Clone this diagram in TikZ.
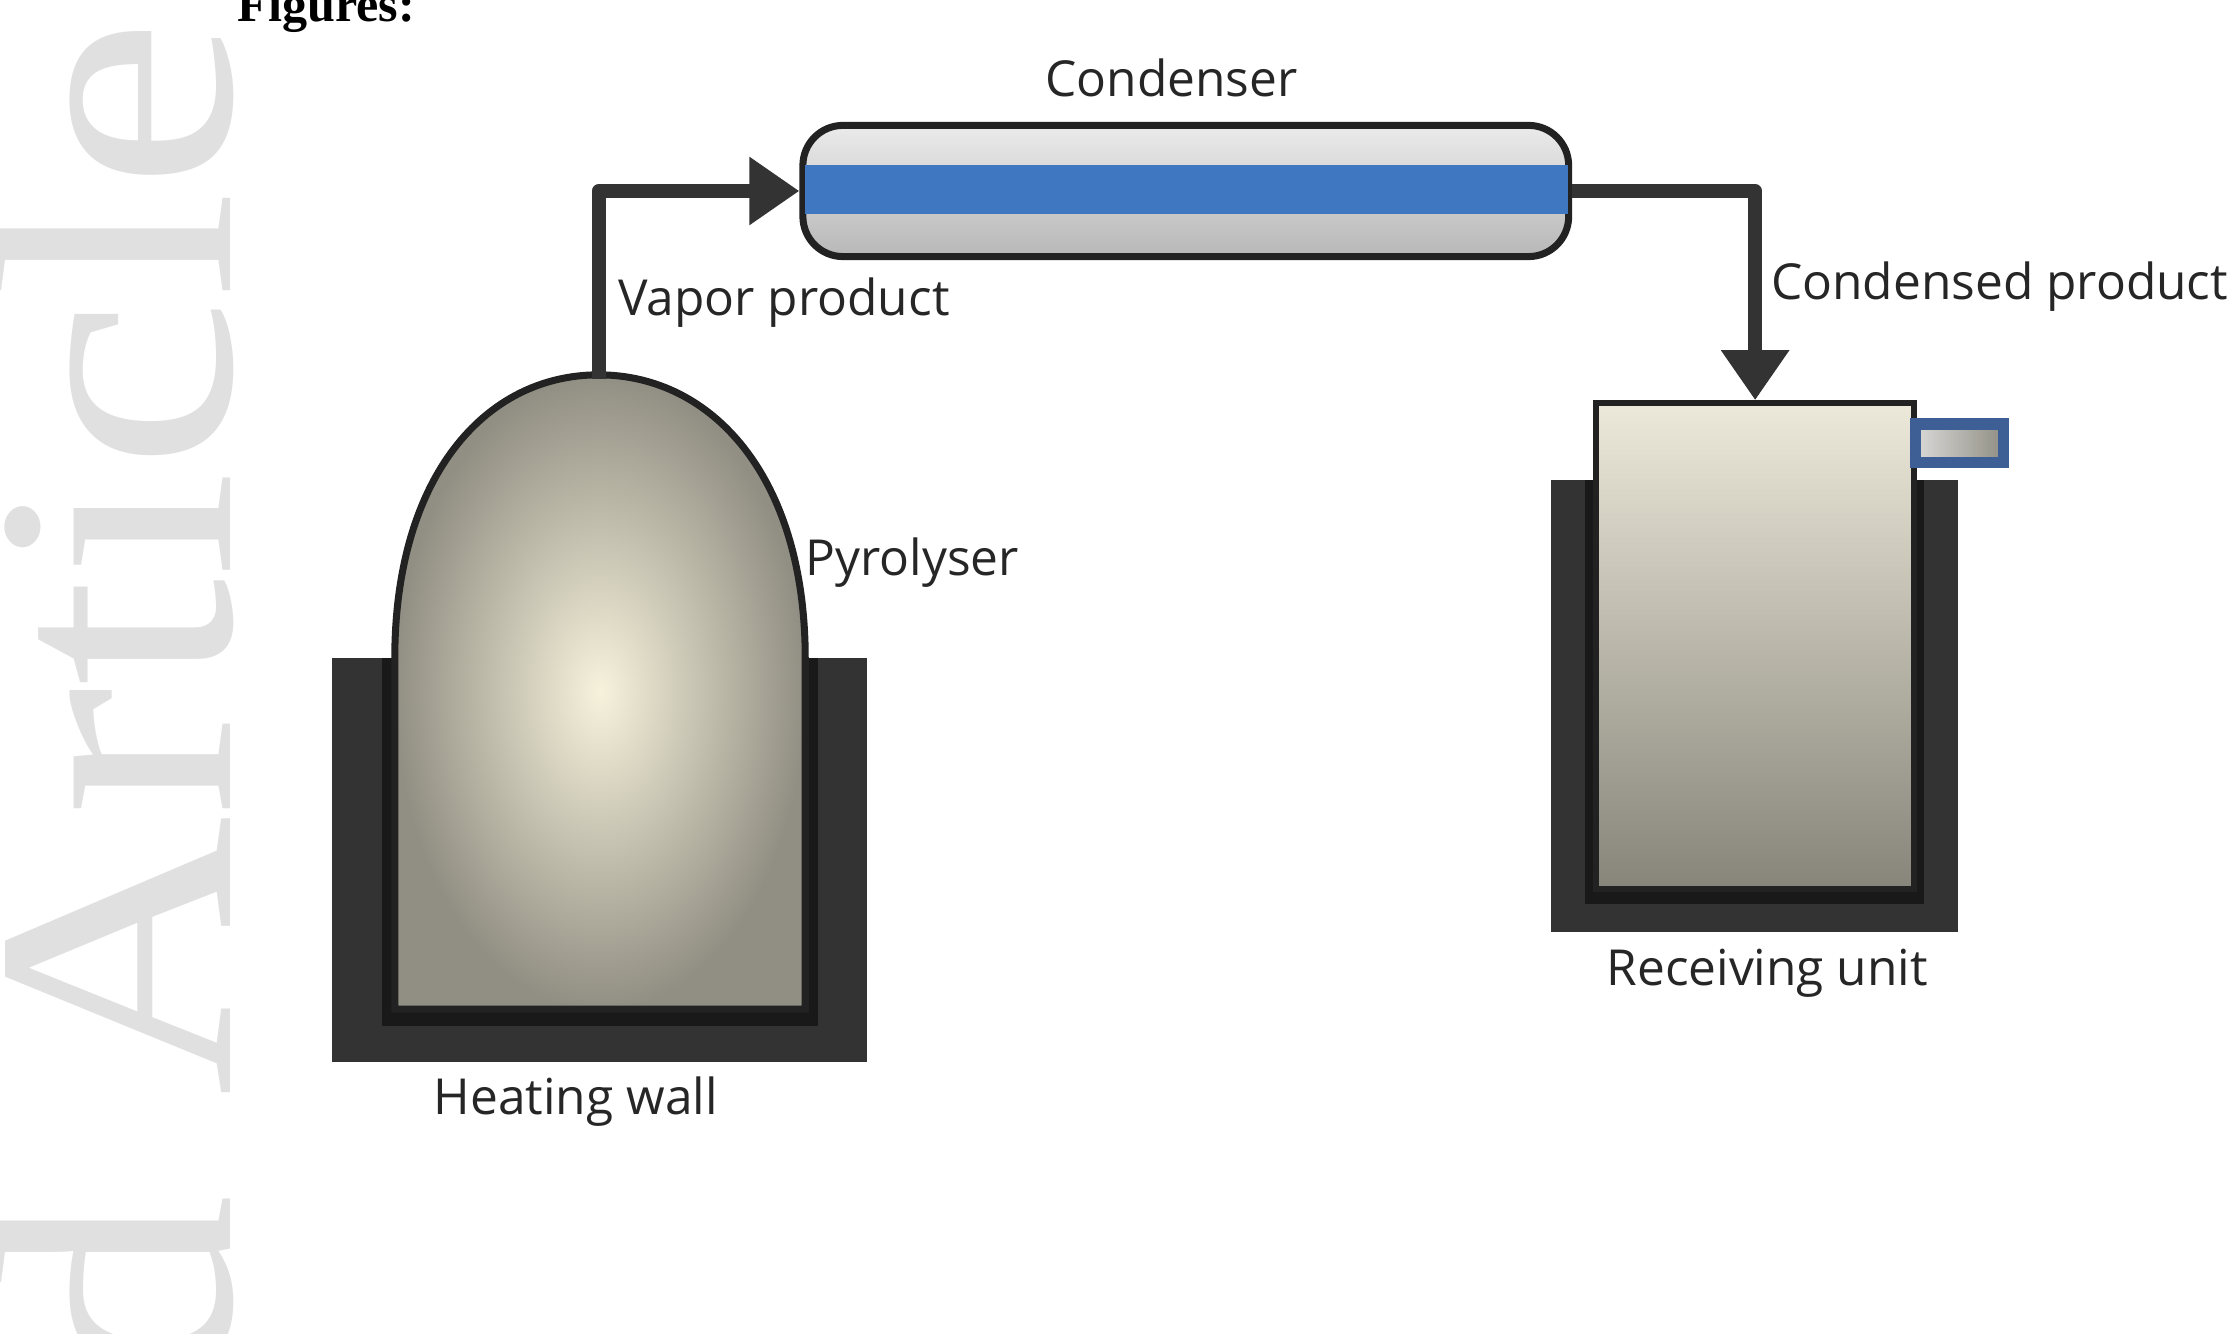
\documentclass[tikz,border=0pt]{standalone}
\usepackage{fontspec}
\setmainfont{Open Sans}
\newfontfamily\wmfont{Liberation Serif}
\usetikzlibrary{arrows.meta}
\definecolor{wall}{HTML}{333333}
\definecolor{edge}{HTML}{222222}
\definecolor{vlight}{RGB}{247,242,220}
\definecolor{vdark}{RGB}{145,143,131}
\definecolor{rtop}{RGB}{236,233,218}
\definecolor{rbot}{RGB}{135,133,122}
\definecolor{cblue}{HTML}{3F78C0}
\definecolor{tapblue}{HTML}{3D5F95}
\begin{document}
\begin{tikzpicture}[x=0.01cm,y=-0.01cm,
  lbl/.style={font=\fontsize{9.9}{12}\selectfont,text=black!85,inner sep=0},
  pipe/.style={draw=wall,line width=2.8pt,line join=round},
  arr/.style={pipe,-{Triangle[length=10pt,width=13pt]}}]
\useasboundingbox (0,0) rectangle (1564,936);
\begin{scope}
\clip (0,0) rectangle (1564,936);
\node[rotate=90,anchor=base east,inner sep=0,text=black!12,font=\wmfont\fontsize{68}{70}\selectfont] (wm) at (162,12) {\scalebox{1.14}[1]{d Article}};
\node[anchor=north west,inner sep=0,font=\wmfont\bfseries\fontsize{10}{12}\selectfont] (fig) at (166,-10) {Figures:};
\end{scope}
% heating wall
\fill[wall] (233,462) rectangle (608,745);
\fill[black!90] (268,462) rectangle (574,720);
% pyrolyser
\path[draw=edge,line width=1.4pt,shading=radial,inner color=vlight,outer color=vdark]
  (277,708) -- (277,462) .. controls (277,335) and (340,263) .. (420,263)
  .. controls (500,263) and (565,335) .. (565,462) -- (565,708) -- cycle;
\coordinate (pyrtop) at (420,266);
% condenser
\node[draw=edge,line width=1.4pt,rounded corners=8pt,inner sep=0,
  top color=black!8,bottom color=black!28,minimum width=5.37cm,minimum height=0.92cm] (cond) at (832,134) {};
\fill[cblue] (565,116) rectangle (1100,150);
\coordinate (condin) at (cond.west);
\coordinate (condout) at (cond.east);
% receiving unit
\fill[wall] (1088,337) rectangle (1374,654);
\fill[black!90] (1112,337) rectangle (1350,634);
\node[draw=edge,line width=1.2pt,inner sep=0,minimum width=2.23cm,minimum height=3.41cm,
  top color=rtop,bottom color=rbot] (recv) at (1231.5,453.5) {};
\node[draw=tapblue,line width=2.2pt,inner sep=0,minimum width=0.62cm,minimum height=0.27cm,
  left color=black!15,right color=vdark] (tap) at (1375,311) {};
% pipes
\draw[arr] (pyrtop) |- (condin);
\draw[arr] (condout) -| (recv.north);
% labels
\node[lbl] (l1) at (822,55) {Condenser};
\node[lbl] (l2) at (550,212) {Vapor product};
\node[lbl] (l3) at (640,395) {Pyrolyser};
\node[lbl] (l4) at (1403,201) {Condensed product};
\node[lbl] (l5) at (1240,683) {Receiving unit};
\node[lbl] (l6) at (404,773) {Heating wall};
\end{tikzpicture}
\end{document}
